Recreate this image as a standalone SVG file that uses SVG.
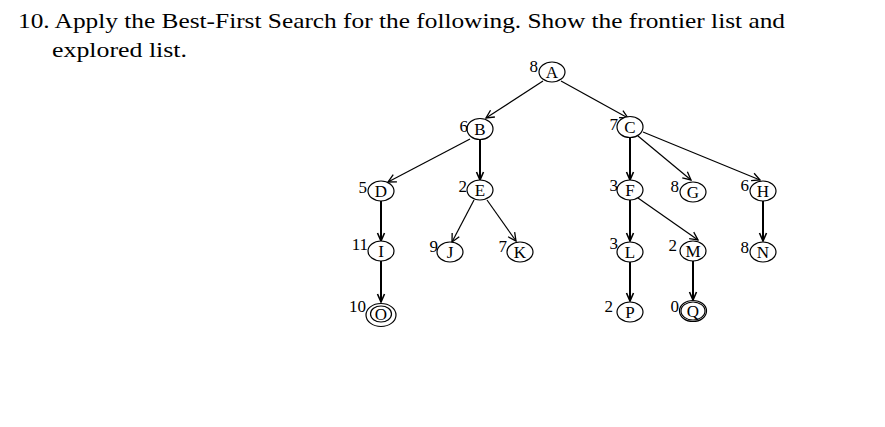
<svg xmlns="http://www.w3.org/2000/svg" width="885" height="427" viewBox="0 0 885 427">
<style>
.t{font-family:"Liberation Serif","DejaVu Serif",serif;font-size:22px;fill:#000}
.n ellipse{fill:#fff;stroke:#000;stroke-width:1.2}
.n text{font-family:"Liberation Serif",serif;font-size:17px;text-anchor:middle;fill:#000}
.n text.h{font-size:17px;text-anchor:end}
.e line{stroke:#000;fill:none}
.d{stroke-width:1.2}
.v{stroke-width:2}
</style>
<defs>
<marker id="ar" viewBox="0 0 10 10" refX="9" refY="5" markerWidth="10" markerHeight="10" markerUnits="userSpaceOnUse" orient="auto">
<path d="M1,1 L9,5 L1,9" fill="none" stroke="#000" stroke-width="1.3"/>
</marker>
<marker id="av" viewBox="0 0 10 10" refX="9" refY="5" markerWidth="10" markerHeight="10" markerUnits="userSpaceOnUse" orient="auto">
<path d="M1,1.5 L9,5 L1,8.5" fill="none" stroke="#000" stroke-width="1.6"/>
</marker>
</defs>
<rect width="885" height="427" fill="#fff"/>
<text class="t" x="18" y="28" textLength="767" lengthAdjust="spacingAndGlyphs">10. Apply the Best-First Search for the following. Show the frontier list and</text>
<text class="t" x="52" y="57" textLength="135" lengthAdjust="spacingAndGlyphs">explored list.</text>
<g id="connectors" class="e">
<line class="d" x1="543" y1="81" x2="486" y2="118" marker-end="url(#ar)"/>
<line class="d" x1="561" y1="81" x2="628" y2="118" marker-end="url(#ar)"/>
<line class="d" x1="470" y1="139" x2="388" y2="182" marker-end="url(#ar)"/>
<line class="v" x1="480" y1="140" x2="480" y2="180" marker-end="url(#av)"/>
<line class="v" x1="630" y1="138" x2="630" y2="180" marker-end="url(#av)"/>
<line class="d" x1="638" y1="136" x2="691" y2="180" marker-end="url(#ar)"/>
<line class="d" x1="643" y1="132" x2="760" y2="180" marker-end="url(#ar)"/>
<line class="v" x1="381" y1="201" x2="381" y2="241" marker-end="url(#av)"/>
<line class="d" x1="474" y1="200" x2="452" y2="242" marker-end="url(#ar)"/>
<line class="d" x1="487" y1="200" x2="516" y2="241" marker-end="url(#ar)"/>
<line class="v" x1="630" y1="200" x2="630" y2="241" marker-end="url(#av)"/>
<line class="d" x1="638" y1="198" x2="698" y2="240" marker-end="url(#ar)"/>
<line class="v" x1="763" y1="201" x2="763" y2="241" marker-end="url(#av)"/>
<line class="v" x1="381" y1="261" x2="381" y2="302" marker-end="url(#av)"/>
<line class="v" x1="630" y1="262" x2="630" y2="301" marker-end="url(#av)"/>
<line class="v" x1="693" y1="261" x2="693" y2="300" marker-end="url(#av)"/>
</g>
<g id="A" class="n"><ellipse cx="552" cy="72" rx="13" ry="10"/><text x="552" y="78">A</text><text class="h" x="538" y="72">8</text></g>
<g id="B" class="n"><ellipse cx="480" cy="129" rx="13" ry="10.5"/><text x="480" y="135">B</text><text class="h" x="468" y="132">6</text></g>
<g id="C" class="n"><ellipse cx="630" cy="127" rx="13" ry="10.5"/><text x="630" y="133">C</text><text class="h" x="618" y="130">7</text></g>
<g id="D" class="n"><ellipse cx="381" cy="191" rx="13" ry="10"/><text x="381" y="197">D</text><text class="h" x="367" y="193">5</text></g>
<g id="E" class="n"><ellipse cx="480" cy="190" rx="13" ry="10"/><text x="480" y="196">E</text><text class="h" x="467" y="192">2</text></g>
<g id="F" class="n"><ellipse cx="630" cy="190" rx="13" ry="10"/><text x="630" y="196">F</text><text class="h" x="618" y="191">3</text></g>
<g id="G" class="n"><ellipse cx="693" cy="192" rx="13" ry="10"/><text x="693" y="198">G</text><text class="h" x="679" y="192">8</text></g>
<g id="H" class="n"><ellipse cx="763" cy="191" rx="13" ry="10"/><text x="763" y="197">H</text><text class="h" x="749" y="191">6</text></g>
<g id="I" class="n"><ellipse cx="381" cy="251" rx="13" ry="10"/><text x="381" y="257">I</text><text class="h" x="368" y="250">11</text></g>
<g id="J" class="n"><ellipse cx="450" cy="252" rx="13" ry="10"/><text x="450" y="258">J</text><text class="h" x="438" y="252">9</text></g>
<g id="K" class="n"><ellipse cx="520" cy="252" rx="13" ry="10"/><text x="520" y="258">K</text><text class="h" x="507" y="252">7</text></g>
<g id="L" class="n"><ellipse cx="630" cy="252" rx="13" ry="10"/><text x="630" y="258">L</text><text class="h" x="618" y="249">3</text></g>
<g id="M" class="n"><ellipse cx="693" cy="251" rx="13" ry="10"/><text x="693" y="257">M</text><text class="h" x="677" y="251">2</text></g>
<g id="N" class="n"><ellipse cx="763" cy="252" rx="13" ry="10"/><text x="763" y="258">N</text><text class="h" x="749" y="253">8</text></g>
<g id="O" class="n"><ellipse cx="381" cy="315" rx="15" ry="11.5"/><ellipse cx="381" cy="314" rx="10.5" ry="8"/><text x="381" y="320">O</text><text class="h" x="366" y="312">10</text></g>
<g id="P" class="n"><ellipse cx="630" cy="312" rx="13" ry="10"/><text x="630" y="318">P</text><text class="h" x="613" y="312">2</text></g>
<g id="Q" class="n"><ellipse cx="693" cy="311" rx="13.5" ry="10.5"/><ellipse cx="693" cy="311" rx="12" ry="9" style="fill:none"/><text x="693" y="317">Q</text><text class="h" x="679" y="312">0</text></g>
</svg>
